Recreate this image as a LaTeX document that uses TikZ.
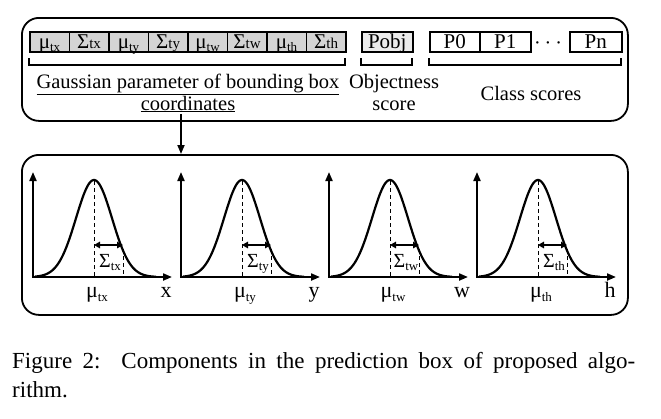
\documentclass[tikz,border=0pt]{standalone}
\usepackage{fontspec}
\setmainfont{Liberation Serif}
\usetikzlibrary{arrows.meta}
\newcommand\fsz[1]{\fontsize{#1}{#1}\selectfont}
\newcommand\lsub[1]{\raisebox{-0.4ex}{\fsz{13}#1}}
\newcommand\bsub[1]{{\fsz{15}#1}}
\definecolor{cellgray}{HTML}{D4D4D4}
\definecolor{objgray}{HTML}{EBEBEB}
\tikzset{
  frame/.style={draw, line width=1.8pt, rounded corners=17pt, inner sep=0pt, anchor=north west},
  cell/.style={draw, line width=1.6pt, minimum width=39.5pt, minimum height=20pt, inner sep=0pt,
    anchor=west, font=\fsz{21}, text height=15pt, text depth=3pt},
  lbl/.style={font=\fsz{20.5}, inner sep=0pt, anchor=base},
  brk/.style={line width=1.3pt},
  axis/.style={line width=2pt, {Triangle[length=9pt,width=7pt]}-{Triangle[length=9pt,width=7pt]}},
  curve/.style={line width=2.2pt},
  dsh/.style={line width=1pt, dash pattern=on 4pt off 3pt},
  darr/.style={line width=2pt, {Triangle[length=6pt,width=6.5pt]}-{Triangle[length=6pt,width=6.5pt]}},
  glbl/.style={inner sep=0pt, anchor=base},
  conn/.style={line width=1.8pt, -{Triangle[length=9pt,width=7pt]}}
}
\begin{document}
\begin{tikzpicture}[x=1pt,y=-1pt]
\useasboundingbox (0,0) rectangle (661,418);
% frames
\node[frame, minimum width=606pt, minimum height=103pt] (upper) at (21,17) {};
\node[frame, minimum width=606pt, minimum height=160pt] (lower) at (21,154) {};
% gaussian parameter cells
\node[cell, fill=cellgray] (c1) at (29,42) {μ\lsub{tx}};
\node[cell, fill=cellgray] (c2) at (68.5,42) {Σ\bsub{tx}};
\node[cell, fill=cellgray] (c3) at (108,42) {μ\lsub{ty}};
\node[cell, fill=cellgray] (c4) at (147.5,42) {Σ\bsub{ty}};
\node[cell, fill=cellgray] (c5) at (187,42) {μ\lsub{tw}};
\node[cell, fill=cellgray] (c6) at (226.5,42) {Σ\bsub{tw}};
\node[cell, fill=cellgray] (c7) at (266,42) {μ\lsub{th}};
\node[cell, fill=cellgray] (c8) at (305.5,42) {Σ\bsub{th}};
% objectness
\node[cell, fill=objgray, minimum width=51pt] (pobj) at (361,42) {Pobj};
% class cells
\node[cell, minimum width=50pt] (p0) at (429,42) {P0};
\node[cell, minimum width=51pt] (p1) at (479,42) {P1};
\node[inner sep=0pt, font=\fsz{20}, anchor=base] (dots) at (548,49) {·\hspace{4pt}·\hspace{4pt}·};
\node[cell, minimum width=52pt] (pn) at (569,42) {Pn};
% brackets
\draw[brk] (29,58) -- (29,65) -- (345,65) -- (345,58);
\draw[brk] (361,58) -- (361,65) -- (412,65) -- (412,58);
\draw[brk] (429,58) -- (429,65) -- (621,65) -- (621,58);
% labels
\node[lbl] (gauss) at (188,88) {\underline{Gaussian parameter of bounding box}};
\node[lbl] (coords) at (188,110) {\underline{coordinates}};
\node[lbl] (obj1) at (394,88) {Objectness};
\node[lbl] (obj2) at (394,110) {score};
\node[lbl] (cls) at (531,100) {Class scores};
% connector
\coordinate (astart) at (181,114);
\draw[conn] (astart) -- (astart |- lower.north);
% graphs
\foreach \ox/\lab/\sub [count=\k] in {33/x/tx, 181/y/ty, 329/w/tw, 477/h/th}{
  \draw[axis] (\ox+139,277) -- (\ox,277) -- (\ox,172);
  \draw[curve] plot[domain=-59:62, samples=90, smooth] ({\ox+61+\x},{277-97*exp(-(\x*\x)/648)});
  \draw[dsh] (\ox+61,181) -- (\ox+61,277);
  \draw[dsh] (\ox+90,249) -- (\ox+90,277);
  \draw[darr] (\ox+61,245) -- (\ox+90,245);
  \node[glbl, font=\fsz{20}] (sig\k) at (\ox+77,267) {Σ\lsub{\sub}};
  \node[glbl, font=\fsz{22}] (mu\k) at (\ox+64,297) {μ\lsub{\sub}};
  \node[glbl, font=\fsz{22}] (ax\k) at (\ox+133,297) {\lab};
}
% caption
\node[inner sep=0pt, anchor=north west, text width=623pt, align=justify,
  font={\fontsize{23}{29}\selectfont}] (cap) at (12,352.5)
  {Figure 2:\ \ Components in the prediction box of proposed algo-\linebreak rithm.};
\end{tikzpicture}
\end{document}
